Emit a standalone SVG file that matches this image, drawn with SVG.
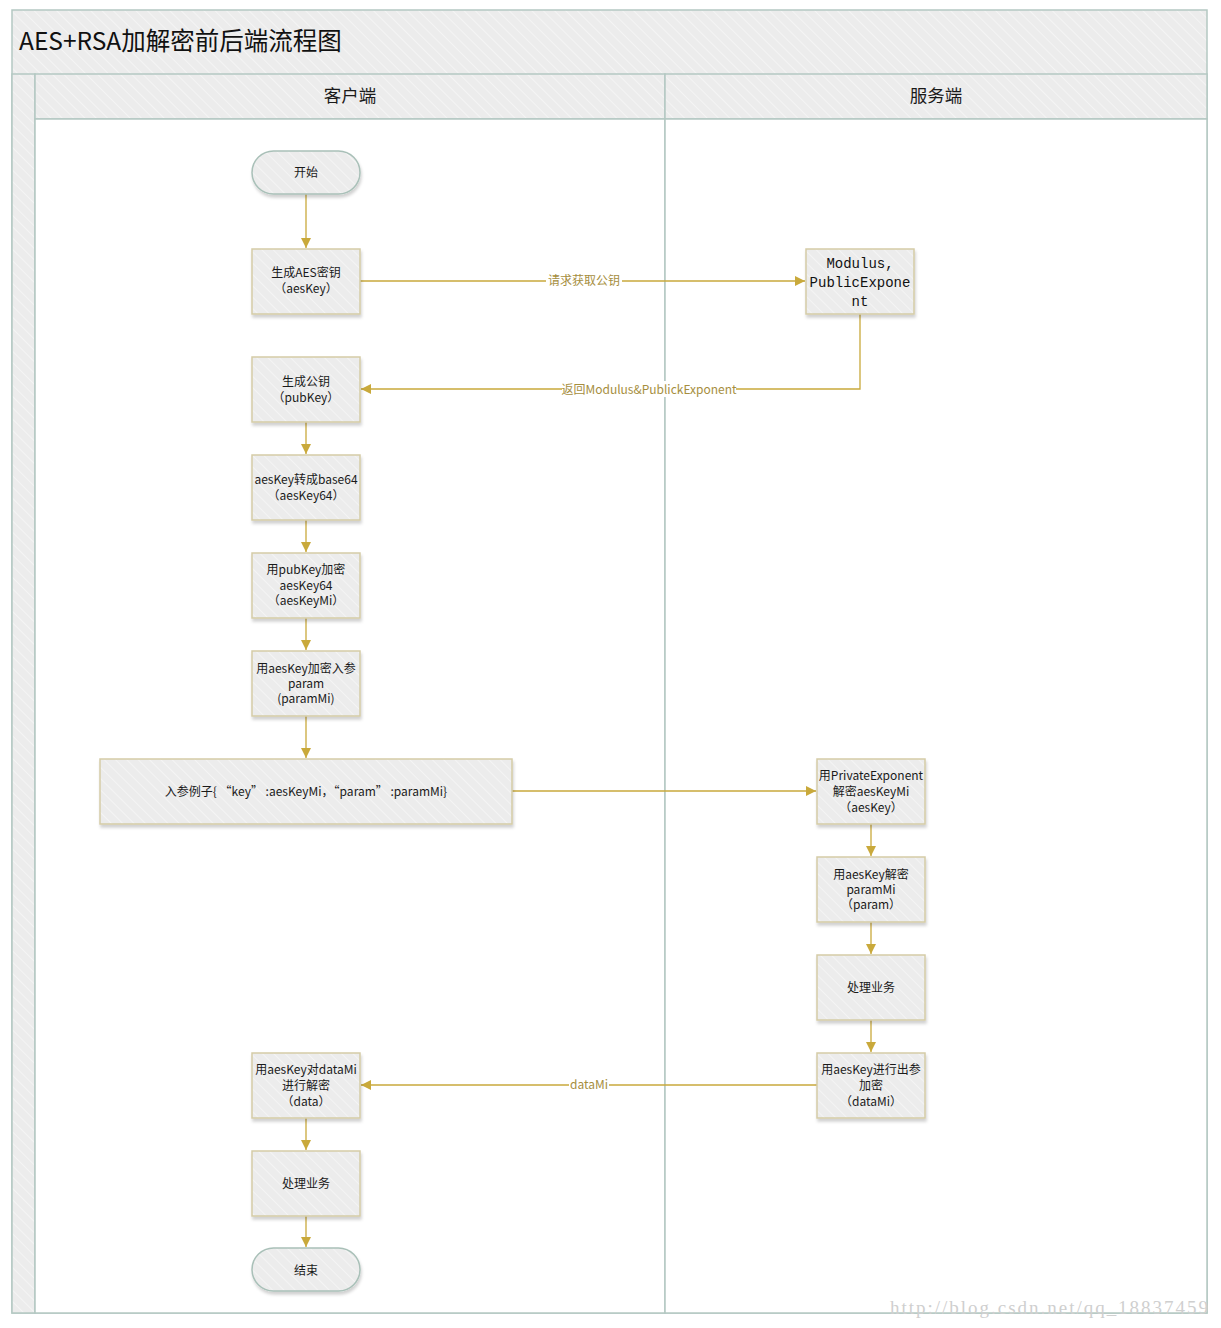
<svg xmlns="http://www.w3.org/2000/svg" width="1221" height="1328" viewBox="0 0 1221 1328">
<defs>
<pattern id="hatch" patternUnits="userSpaceOnUse" width="8" height="8" patternTransform="rotate(-45)">
<rect width="8" height="8" fill="#ececec"/>
<line x1="0" y1="0" x2="0" y2="8" stroke="#f4f4f4" stroke-width="2"/>
</pattern>
<filter id="sh" x="-10%" y="-10%" width="130%" height="140%">
<feDropShadow dx="1" dy="3" stdDeviation="1.5" flood-color="#000" flood-opacity="0.18"/>
</filter>
<marker id="arr" viewBox="0 0 10 10" refX="10" refY="5" markerWidth="10" markerHeight="10" markerUnits="userSpaceOnUse" orient="auto">
<path d="M0,0 L10,5 L0,10 Z" fill="#c9a93b"/>
</marker>
</defs>
<style>
.frame{fill:url(#hatch);stroke:#b4c8c2;stroke-width:1.5}
.lane{fill:#ffffff;stroke:#b4c8c2;stroke-width:1.5}
.box{fill:url(#hatch);stroke:#d5cca6;stroke-width:1.5;filter:url(#sh)}
.pill{fill:url(#hatch);stroke:#a9c0b8;stroke-width:1.5;filter:url(#sh)}
.t{font-family:"Noto Sans CJK SC","Noto Sans",sans-serif;font-size:12px;fill:#1a1a1a;text-anchor:middle}
.mono{font-family:"Liberation Mono","DejaVu Sans Mono",monospace;font-size:14px;fill:#111;text-anchor:middle}
.hdr{font-family:"Noto Sans CJK SC","Noto Sans",sans-serif;font-size:17.5px;fill:#1a1a1a;text-anchor:middle}
.title{font-family:"Noto Sans CJK SC","Noto Sans",sans-serif;font-size:24.5px;fill:#111}
.c{fill:none;stroke:#c9a93b;stroke-width:1.3}
.lbl{font-family:"Noto Sans CJK SC","Noto Sans",sans-serif;font-size:12px;fill:#a68e3e;text-anchor:middle}
.wm{font-family:"Liberation Serif","DejaVu Serif",serif;font-size:19px;fill:#cfcfcf}
</style>
<g id="pool">
<rect class="frame" x="12" y="10" width="1195" height="1303"/>
<text class="title" x="19" y="50">AES+RSA加解密前后端流程图</text>
<rect class="frame" x="12" y="74" width="23" height="1239"/>
<rect class="frame" x="35" y="74" width="630" height="45"/>
<rect class="frame" x="665" y="74" width="542" height="45"/>
<text class="hdr" x="350" y="102">客户端</text>
<text class="hdr" x="936" y="102">服务端</text>
<rect class="lane" x="35" y="119" width="630" height="1194"/>
<rect class="lane" x="665" y="119" width="542" height="1194"/>
</g>
<g id="connectors">
<line class="c" x1="306" y1="194" x2="306" y2="248" marker-end="url(#arr)"/>
<line class="c" x1="360" y1="281" x2="805" y2="281" marker-end="url(#arr)"/>
<polyline class="c" points="860,314 860,389 361,389" marker-end="url(#arr)"/>
<line class="c" x1="306" y1="422" x2="306" y2="454" marker-end="url(#arr)"/>
<line class="c" x1="306" y1="520" x2="306" y2="552" marker-end="url(#arr)"/>
<line class="c" x1="306" y1="618" x2="306" y2="650" marker-end="url(#arr)"/>
<line class="c" x1="306" y1="716" x2="306" y2="758" marker-end="url(#arr)"/>
<line class="c" x1="512" y1="791" x2="816" y2="791" marker-end="url(#arr)"/>
<line class="c" x1="871" y1="824" x2="871" y2="856" marker-end="url(#arr)"/>
<line class="c" x1="871" y1="922" x2="871" y2="954" marker-end="url(#arr)"/>
<line class="c" x1="871" y1="1020" x2="871" y2="1052" marker-end="url(#arr)"/>
<line class="c" x1="817" y1="1085" x2="361" y2="1085" marker-end="url(#arr)"/>
<line class="c" x1="306" y1="1118" x2="306" y2="1150" marker-end="url(#arr)"/>
<line class="c" x1="306" y1="1216" x2="306" y2="1247" marker-end="url(#arr)"/>
<rect x="546" y="273" width="76" height="16" fill="#ffffff"/>
<text class="lbl" x="584" y="285">请求获取公钥</text>
<rect x="562" y="381" width="174" height="16" fill="#ffffff"/>
<text class="lbl" x="649" y="394">返回Modulus&amp;PublickExponent</text>
<rect x="569" y="1077" width="40" height="16" fill="#ffffff"/>
<text class="lbl" x="589" y="1089">dataMi</text>
</g>
<g id="n-start"><rect class="pill" x="252" y="151" width="108" height="43" rx="21.5"/><text class="t" x="306" y="177">开始</text></g>
<g id="n-genaes"><rect class="box" x="252" y="249" width="108" height="65"/><text class="t" x="306" y="277">生成AES密钥</text><text class="t" x="306" y="293">（aesKey）</text></g>
<g id="n-modulus"><rect class="box" x="806" y="249" width="108" height="65"/><text class="mono" x="860" y="268">Modulus,</text><text class="mono" x="860" y="287">PublicExpone</text><text class="mono" x="860" y="306">nt</text></g>
<g id="n-pubkey"><rect class="box" x="252" y="357" width="108" height="65"/><text class="t" x="306" y="386">生成公钥</text><text class="t" x="306" y="402">（pubKey）</text></g>
<g id="n-base64"><rect class="box" x="252" y="455" width="108" height="65"/><text class="t" x="306" y="484">aesKey转成base64</text><text class="t" x="306" y="500">（aesKey64）</text></g>
<g id="n-encaes"><rect class="box" x="252" y="553" width="108" height="65"/><text class="t" x="306" y="574">用pubKey加密</text><text class="t" x="306" y="590">aesKey64</text><text class="t" x="306" y="605">（aesKeyMi）</text></g>
<g id="n-encparam"><rect class="box" x="252" y="651" width="108" height="65"/><text class="t" x="306" y="673">用aesKey加密入参</text><text class="t" x="306" y="688">param</text><text class="t" x="306" y="703">(paramMi)</text></g>
<g id="n-request"><rect class="box" x="100" y="759" width="412" height="65"/><text class="t" x="306" y="796">入参例子{ “key” :aesKeyMi，“param” :paramMi}</text></g>
<g id="n-decaes"><rect class="box" x="817" y="759" width="108" height="65"/><text class="t" x="871" y="780">用PrivateExponent</text><text class="t" x="871" y="796">解密aesKeyMi</text><text class="t" x="871" y="812">（aesKey）</text></g>
<g id="n-decparam"><rect class="box" x="817" y="857" width="108" height="65"/><text class="t" x="871" y="879">用aesKey解密</text><text class="t" x="871" y="894">paramMi</text><text class="t" x="871" y="909">（param）</text></g>
<g id="n-biz-s"><rect class="box" x="817" y="955" width="108" height="65"/><text class="t" x="871" y="992">处理业务</text></g>
<g id="n-encout"><rect class="box" x="817" y="1053" width="108" height="65"/><text class="t" x="871" y="1074">用aesKey进行出参</text><text class="t" x="871" y="1090">加密</text><text class="t" x="871" y="1106">（dataMi）</text></g>
<g id="n-decout"><rect class="box" x="252" y="1053" width="108" height="65"/><text class="t" x="306" y="1074">用aesKey对dataMi</text><text class="t" x="306" y="1090">进行解密</text><text class="t" x="306" y="1106">（data）</text></g>
<g id="n-biz-c"><rect class="box" x="252" y="1151" width="108" height="65"/><text class="t" x="306" y="1188">处理业务</text></g>
<g id="n-end"><rect class="pill" x="252" y="1248" width="108" height="43" rx="21.5"/><text class="t" x="306" y="1275">结束</text></g>
<text class="wm" x="890" y="1314" textLength="318" lengthAdjust="spacing">http://blog.csdn.net/qq_18837459</text>
</svg>
